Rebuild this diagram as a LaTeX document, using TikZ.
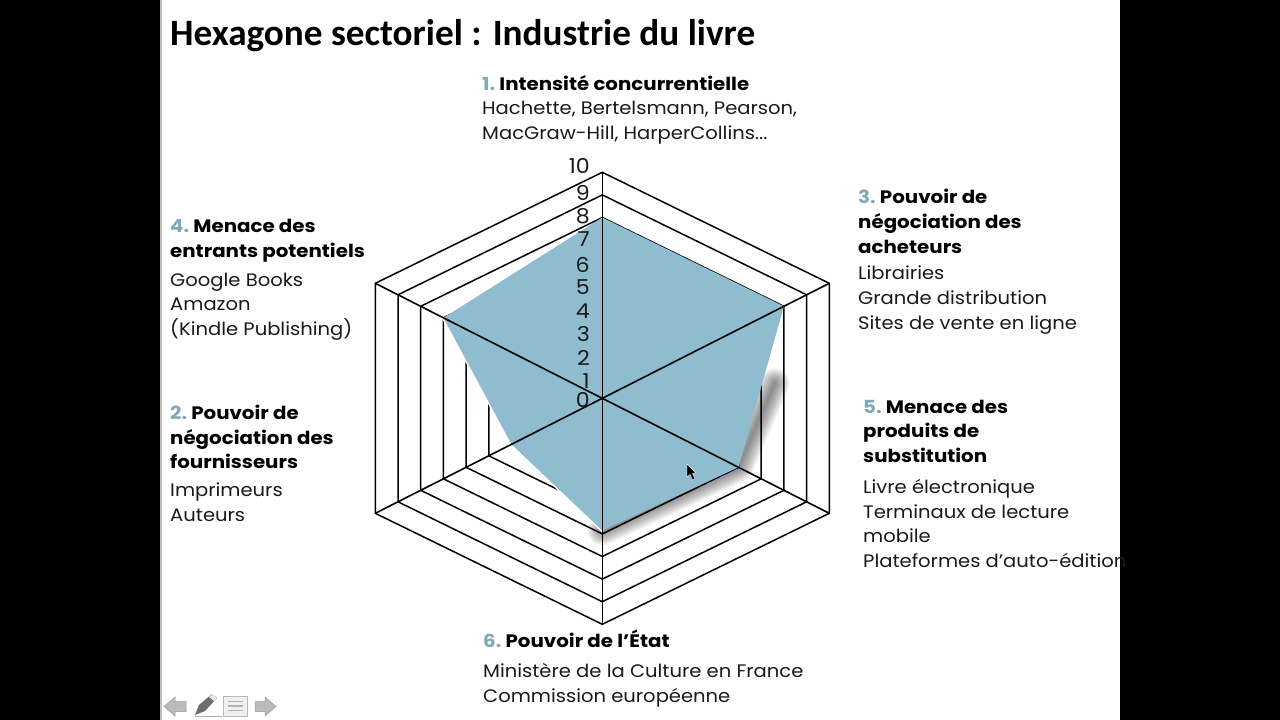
\documentclass[tikz,border=0pt]{standalone}
\usepackage{fontspec}
\setmainfont{Poppins}
\newfontfamily\titlefont{Carlito}
\newfontfamily\bodyfont[FakeStretch=1.08]{Poppins}
\newfontfamily\headfont[FakeStretch=1.10]{Poppins}
\usetikzlibrary{calc}
\definecolor{teal}{HTML}{8FBDCF}
\definecolor{numteal}{HTML}{7FA9B8}
\definecolor{ink}{HTML}{1A1A1A}
\definecolor{icongrey}{HTML}{B9BDB9}
\tikzset{
  x=1pt,y=-1pt,
  ring/.style={draw=black,line width=1.5pt,line join=miter},
  axis/.style={draw=black,line width=1.6pt},
  head/.style={anchor=base west,inner sep=0pt,font=\headfont\bfseries\fontsize{18}{20}\selectfont,text=black},
  body/.style={anchor=base west,inner sep=0pt,font=\bodyfont\fontsize{18.1}{20}\selectfont,text=ink},
  tick/.style={anchor=east,inner sep=0pt,font=\bodyfont\fontsize{20.5}{22}\selectfont,text=ink},
  icon/.style={fill=icongrey,draw=gray!80,line width=.5pt},
}
\newcommand{\num}[1]{{\color{numteal}#1.}\ }
\begin{document}
\begin{tikzpicture}
\useasboundingbox (0,0) rectangle (1280,720);
\fill[black] (0,0) rectangle (1280,720);
\fill[white] (160,0) rectangle (1120,720);
\fill[gray!50] (160,0) rectangle (161.5,720);

\coordinate (O) at (602.3,398.3);
% soft shadow
\foreach \w in {30,28,...,2}{
  \draw[black,opacity=.035,line width=\w pt,line cap=round,line join=round]
    ($(O)+5.85*(0,22.6)+(0,0)$) -- ($(O)+6*(22.7,11.5)+(0,0)$) -- ($(O)+7.6*(22.7,-2)$);
}
% rings
\foreach \r in {5,...,10}{
  \draw[ring] ($(O)+\r*(0,-22.6)$) -- ($(O)+\r*(22.7,-11.5)$) -- ($(O)+\r*(22.7,11.5)$) -- ($(O)+\r*(0,22.6)$) -- ($(O)+\r*(-22.7,11.5)$) -- ($(O)+\r*(-22.7,-11.5)$) -- cycle;
}
% profile
\draw[white,line width=3pt,line cap=round] ($(O)+7*(-22.7,-11.5)$) -- ($(O)+4*(-22.7,11.5)$) -- ($(O)+5.85*(0,22.6)$);
\fill[teal] ($(O)+8*(0,-22.6)$) -- ($(O)+8*(22.7,-11.5)$) -- ($(O)+6*(22.7,11.5)$) -- ($(O)+5.85*(0,22.6)$) -- ($(O)+4*(-22.7,11.5)$) -- ($(O)+7*(-22.7,-11.5)$) -- cycle;
% axes
\draw[axis] ($(O)+10*(0,-22.6)$) -- ($(O)+10*(0,22.6)$);
\draw[axis] ($(O)+10*(-22.7,-11.5)$) -- ($(O)+10*(22.7,11.5)$);
\draw[axis] ($(O)+10*(-22.7,11.5)$) -- ($(O)+10*(22.7,-11.5)$);

% scale
\node[tick] (t10) at (590,166) {10};
\node[tick] (t9) at (590,192.5) {9};
\node[tick] (t8) at (590,216) {8};
\node[tick] (t7) at (590,239.5) {7};
\node[tick] (t6) at (590,264.5) {6};
\node[tick] (t5) at (590,287) {5};
\node[tick] (t4) at (590,311) {4};
\node[tick] (t3) at (590,334) {3};
\node[tick] (t2) at (590,357.5) {2};
\node[tick] (t1) at (590,381) {1};
\node[tick] (t0) at (590,399.5) {0};

% title
\node[anchor=base west,inner sep=0pt,font=\titlefont\bfseries\fontsize{37.2}{40}\selectfont] (title) at (170,45) {Hexagone sectoriel : Industrie du livre};

% labels
\node[head] (l1a) at (482,90) {\num{1}Intensité concurrentielle};
\node[body] (l1b) at (482,114) {Hachette, Bertelsmann, Pearson,};
\node[body] (l1c) at (482,139) {MacGraw-Hill, HarperCollins...};

\node[head] (l3a) at (858,203) {\num{3}Pouvoir de};
\node[head] (l3b) at (858,228) {négociation des};
\node[head] (l3c) at (858,253) {acheteurs};
\node[body] (l3d) at (858,279) {Librairies};
\node[body] (l3e) at (858,304) {Grande distribution};
\node[body] (l3f) at (858,329) {Sites de vente en ligne};

\node[head] (l4a) at (170,232) {\num{4}Menace des};
\node[head] (l4b) at (170,257) {entrants potentiels};
\node[body] (l4c) at (170,286) {Google Books};
\node[body] (l4d) at (170,310) {Amazon};
\node[body] (l4e) at (170,335) {(Kindle Publishing)};

\node[head] (l2a) at (170,419) {\num{2}Pouvoir de};
\node[head] (l2b) at (170,444) {négociation des};
\node[head] (l2c) at (170,468) {fournisseurs};
\node[body] (l2d) at (170,496) {Imprimeurs};
\node[body] (l2e) at (170,521) {Auteurs};

\node[head] (l5a) at (863,413) {\num{5}Menace des};
\node[head] (l5b) at (863,437) {produits de};
\node[head] (l5c) at (863,462) {substitution};
\node[body] (l5d) at (863,493) {Livre électronique};
\node[body] (l5e) at (863,518) {Terminaux de lecture};
\node[body] (l5f) at (863,542) {mobile};
\node[body] (l5g) at (863,567) {Plateformes d’auto-édition};

\node[head] (l6a) at (483,647) {\num{6}Pouvoir de l’État};
\node[body] (l6b) at (483,677) {Ministère de la Culture en France};
\node[body] (l6c) at (483,702) {Commission européenne};

% mouse cursor
\fill[black,draw=white,line width=.4pt] (687,464) -- (687,477) -- (690,474.5) -- (692.5,480) -- (695,479) -- (692.5,473.5) -- (696,473) -- cycle;

% navigation icons
\draw[icon] (164,706.5) -- (175,697) -- (175,701.5) -- (186,701.5) -- (186,711.5) -- (175,711.5) -- (175,716) -- cycle;
\draw[icon] (276,706.5) -- (265,697) -- (265,701.5) -- (255,701.5) -- (255,711.5) -- (265,711.5) -- (265,716) -- cycle;
\fill[gray!85!black] (195,715) -- (199,705) -- (212,694) -- (217,698) -- (205,711) -- cycle;
\fill[white!80!gray] (209,697) -- (212,694) -- (217,698) -- (214,701) -- cycle;
\draw[gray!60,line width=.6pt] (195,716.5) -- (222,716.5);
\draw[fill=gray!12,draw=gray!55,line width=.8pt] (223.5,696) rectangle (247.5,716);
\draw[gray!60,line width=1.2pt] (228,701.5) -- (243,701.5) (228,706) -- (243,706) (228,710.5) -- (243,710.5);
\end{tikzpicture}
\end{document}
